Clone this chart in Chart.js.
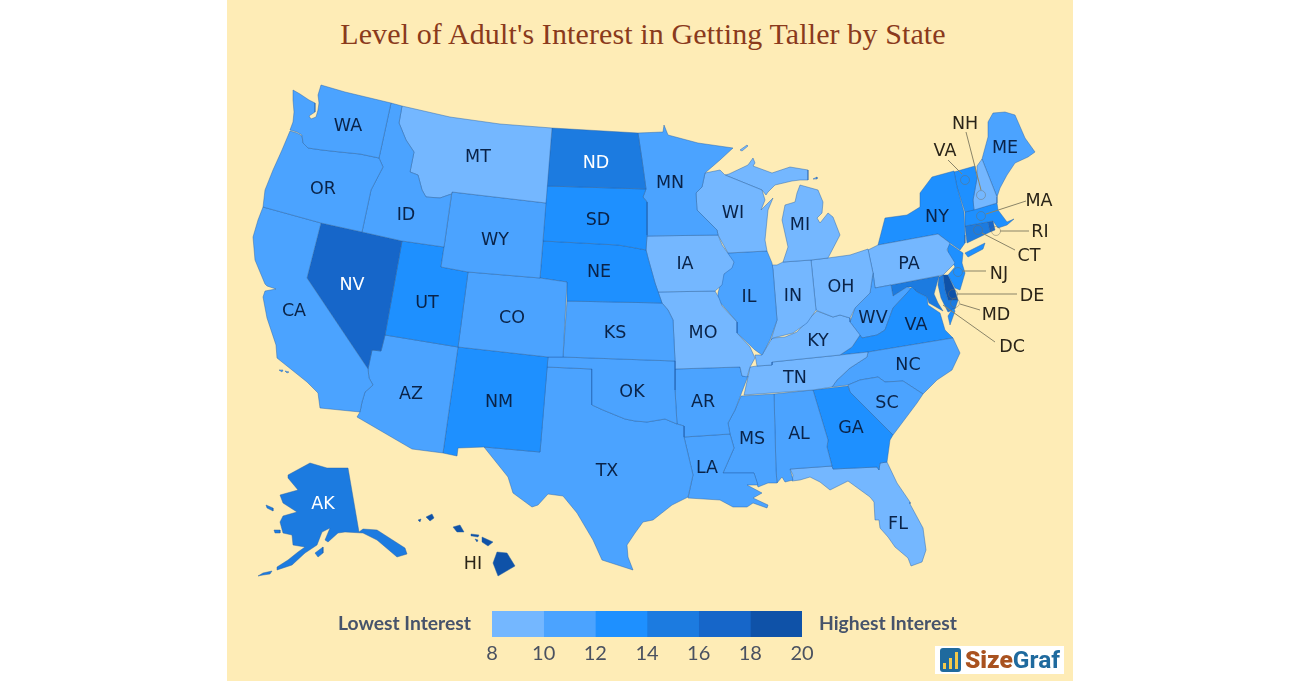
<!DOCTYPE html>
<html>
<head>
<meta charset="utf-8">
<title>Level of Adult's Interest in Getting Taller by State</title>
<script src="https://cdn.jsdelivr.net/npm/chart.js@4/dist/chart.umd.min.js"></script>
<style>
  html, body { margin: 0; padding: 0; background: #fff; }
  #page { position: relative; width: 1300px; height: 681px; overflow: hidden; }
  #panel { position: absolute; left: 227px; top: 0; width: 846px; height: 681px; background: #FEECB6; }
  canvas { position: absolute; }
  #title { position: absolute; left: 220px; width: 846px; top: 15px; margin: 0; text-align: center; color: #8A3A1C;
           font: 400 30px "Liberation Serif", serif; letter-spacing: 0.12px; line-height: 38px; }
  .legendText { position: absolute; top: 611px; color: #46536B; font: 700 19.3px Lato, sans-serif; line-height: 24px; }
  #logo { position: absolute; left: 935px; top: 646px; width: 129px; height: 28px; background: #fff; }
  #logoIcon { position: absolute; left: 5px; top: 2px; width: 21px; height: 24px; background: #1F6A9E; border-radius: 3px; }
  #logoIcon i { position: absolute; bottom: 3px; width: 3px; background: #F2C94C; }
  #logoText { position: absolute; left: 30px; top: 0; font: 700 24.5px Roboto, sans-serif; line-height: 28px; color: #1F6A9E; }
  #logoText b { color: #A9521F; }
</style>
</head>
<body>
<div id="page">
  <div id="panel"></div>
  <h1 id="title">Level of Adult's Interest in Getting Taller by State</h1>
  <canvas id="mapChart" width="846" height="681" style="left:227px;top:0"></canvas>
  <div class="legendText" style="left:338px">Lowest Interest</div>
  <div class="legendText" style="left:819px">Highest Interest</div>
  <canvas id="legendChart" width="390" height="55" style="left:452px;top:611px"></canvas>
  <div id="logo">
    <div id="logoIcon"><i style="left:3px;height:6px"></i><i style="left:9px;height:11px"></i><i style="left:15px;height:17px"></i></div>
    <div id="logoText"><b>Size</b>Graf</div>
  </div>
</div>

<script>
// colour bands, same as the legend
var bandEdges = [8, 10, 12, 14, 16, 18, 20];
var bandColors = ['#74B7FF', '#4BA3FF', '#1E90FF', '#1C7BE0', '#1666C9', '#0F52A8'];

var stateCodes = ['WA','OR','CA','ID','MT','WY','NV','UT','AZ','CO','NM','ND','SD','NE','KS','OK','TX','MN','IA','MO','AR','LA','WI','IL','MS','MI','IN','OH','KY','TN','AL','GA','FL','SC','NC','VA','WV','PA','NY','VT','NH','ME','MA','CT','RI','NJ','MD','DE','AK','HI'];
var stateValues = [11,11,11,11,9,11,17,13,11,11,13,15,13,13,11,11,11,11,9,9,11,11,9,11,11,9,9,9,9,9,11,13,9,11,11,13,11,9,13,13,9,11,13,15,17,13,15,19,15,19];

// outlines (x, y in picture pixels)
var WA = [[293,90],[300,94],[309,100],[315,103],[315,112],[309,116],[311,119],[316,117],[318,110],[319,103],[318,95],[321,85],[345,92],[391,103],[379,158],[360,154],[340,152],[322,150],[308,148],[303,143],[302,135],[297,132],[290,130],[293,122],[294,112],[293,100]];
var OR = [[290,131],[297,133],[302,136],[303,143],[308,148],[322,150],[340,152],[360,154],[379,158],[383,167],[371,190],[362,232],[321,223],[263,207],[265,190],[273,170],[282,150]];
var CA1 = [[263,207],[321,223],[307,278],[368,369],[369,378],[373,385],[365,392],[362,402],[360,412],[320,408],[318,393],[307,382],[292,370],[277,358],[276,345],[267,318],[263,297],[265,291],[276,289],[267,286],[265,284],[255,260],[253,237],[258,220]];
var CA2 = [[279,370],[283,370],[282,372]];
var CA3 = [[285,371],[289,372],[287,373]];
var ID = [[391,103],[402,106],[399,123],[406,140],[414,152],[410,172],[418,175],[422,190],[426,197],[440,198],[451.5,194],[444,247],[402,241],[362,232],[371,190],[383,167],[379,158]];
var MT = [[402,106],[450,117],[500,124],[552,128],[546,203],[452,192],[451.5,194],[440,198],[426,197],[422,190],[418,175],[410,172],[414,152],[406,140],[399,123]];
var WY = [[452,192],[546,203],[540,278],[468,272],[441,267],[444,247]];
var NV = [[321,223],[362,232],[402,241],[385,335],[381,351],[372,350],[368,369],[307,278]];
var UT = [[402,241],[444,247],[441,267],[468,272],[458,347],[385,335]];
var AZ = [[372,350],[381,351],[385,335],[458,347],[443,453],[412,449],[357,417],[360,412],[362,402],[365,392],[373,385],[369,378],[368,369]];
var CO = [[468,272],[540,278],[567,282],[563,357],[548,357],[458,347]];
var NM = [[458,347],[548,357],[540,452],[484,447],[458,448],[457,456],[443,453]];
var ND = [[552,128],[638,133],[642,160],[646,189],[547,186]];
var SD = [[547,186],[646,189],[643,197],[647,202],[647,235],[646,250],[630,247],[618,245],[543,241]];
var NE = [[543,241],[618,245],[630,247],[646,250],[648,258],[655,283],[662,303],[567,301],[567,282],[540,278]];
var KS = [[567,301],[662,303],[668,310],[673,320],[675,361],[563,357]];
var OK = [[548,357],[563,357],[675,361],[675,390],[677,424],[665,419],[647,422],[635,421],[625,419],[603,410],[592,405],[592,369],[547,367]];
var TX = [[547,367],[592,369],[592,405],[603,410],[625,419],[635,421],[647,422],[665,419],[677,424],[684,426],[684,437],[693,475],[688,497],[672,505],[653,520],[643,522],[635,533],[627,545],[628,557],[633,570],[602,560],[593,540],[577,513],[563,496],[548,494],[538,505],[532,507],[513,493],[508,477],[484,447],[540,452]];
var MN = [[638,133],[663,132],[664,125],[668,135],[698,143],[733,148],[720,160],[705,173],[702,187],[696,193],[697,210],[717,230],[718,235],[647,236],[647,202],[643,197],[646,189],[642,160]];
var IA = [[647,236],[718,235],[722,245],[727,252],[734,262],[732,268],[724,274],[722,285],[715,291],[658,292],[655,283],[648,258],[646,250]];
var MO = [[658,292],[715,291],[719,298],[722,306],[737,322],[737,333],[750,347],[755,358],[750,367],[747,377],[742,376],[740,367],[675,369],[675,361],[673,320],[668,310],[662,303]];
var AR = [[675,369],[740,367],[742,376],[748,376],[735,410],[728,423],[730,434],[684,437],[684,426],[677,424],[675,390]];
var LA = [[684,437],[730,434],[734,448],[723,473],[754,473],[758,485],[747,485],[762,493],[753,498],[768,505],[767,508],[753,503],[747,507],[733,507],[720,500],[688,498],[693,475]];
var WI = [[705,173],[720,170],[725,175],[762,190],[765,200],[761,210],[773,198],[768,210],[765,240],[767,251],[728,253],[718,235],[717,230],[697,210],[696,193],[702,187]];
var IL = [[728,253],[767,251],[772,263],[773,270],[777,320],[770,340],[762,355],[755,350],[737,333],[737,322],[718,300],[718,293],[723,275],[734,263],[725,253]];
var MS = [[741,396],[774,394],[776,470],[777,483],[768,483],[758,487],[754,473],[723,473],[734,448],[730,434],[728,423],[735,410]];
var MI1 = [[725,175],[729,174],[748,165],[753,158],[755,163],[753,166],[772,173],[790,167],[808,170],[808,180],[800,180],[792,181],[775,185],[768,192],[766,195],[762,190]];
var MI2 = [[800,185],[818,190],[823,202],[822,213],[817,218],[820,223],[828,213],[833,217],[840,235],[828,258],[811,260],[783,262],[788,247],[782,220],[785,205],[795,202],[797,193]];
var MI3 = [[740,150],[747,145],[748,146],[742,151]];
var MI4 = [[813,179],[817,177],[817,179]];
var IN = [[772,265],[777,265],[783,262],[811,260],[816,310],[807,323],[793,333],[773,338],[771,340],[777,320],[773,270]];
var OH = [[811,260],[828,258],[850,255],[868,249],[873,273],[870,293],[855,308],[850,318],[840,315],[833,317],[818,311],[816,310]];
var KY = [[755,355],[762,355],[771,340],[773,338],[785,337],[797,332],[808,320],[817,311],[833,317],[840,315],[850,318],[850,322],[860,335],[852,347],[840,355],[772,362],[772,365],[757,366]];
var TN = [[750,367],[757,366],[772,365],[772,362],[840,355],[868,352],[867,357],[850,368],[837,380],[832,387],[813,390],[744,395],[748,377]];
var AL = [[774,394],[813,390],[828,440],[827,447],[832,466],[790,469],[793,480],[785,482],[782,477],[777,483],[776,470]];
var GA = [[813,390],[848,386],[850,392],[893,435],[890,440],[887,462],[880,463],[879,470],[877,467],[833,469],[832,466],[827,447],[828,440]];
var FL = [[790,469],[832,466],[833,469],[877,467],[879,470],[880,463],[887,462],[897,483],[910,502],[910,504],[923,528],[926,550],[922,562],[911,566],[908,558],[895,547],[888,537],[880,528],[879,520],[875,520],[874,502],[870,497],[848,481],[830,490],[820,482],[810,477],[800,480],[792,481],[793,475]];
var SC = [[848,385],[860,380],[878,377],[885,382],[903,381],[923,394],[917,403],[893,435],[850,392]];
var NC = [[868,352],[953,338],[960,353],[952,370],[937,380],[923,394],[903,381],[885,382],[878,377],[860,380],[848,385],[832,387],[837,380],[850,368],[867,357]];
var VA1 = [[840,355],[852,347],[860,335],[862,338],[877,335],[885,330],[893,308],[907,293],[912,287],[917,292],[927,297],[928,305],[940,313],[945,330],[953,338],[868,352]];
var VA2 = [[953,308],[955,311],[950,325],[948,316]];
var WV = [[873,273],[875,288],[891,285],[893,296],[907,287],[916,290],[907,293],[893,308],[885,330],[877,335],[862,338],[850,322],[855,308],[870,293]];
var PA = [[868,250],[878,245],[938,234],[950,243],[947,250],[955,263],[943,275],[875,288],[873,273]];
var NY1 = [[878,245],[885,218],[907,215],[920,207],[920,193],[932,177],[954,171],[957,187],[964,212],[965,235],[965,243],[960,250],[950,243],[938,234]];
var NY2 = [[965,253],[985,243],[983,249],[968,257]];
var VT = [[954,172],[975,166],[977,178],[973,200],[974,210],[965,212],[957,187]];
var NH = [[977,166],[982,159],[997,197],[997,203],[974,210],[973,200],[977,178]];
var ME = [[982,159],[988,137],[988,122],[993,113],[1005,112],[1015,115],[1025,138],[1035,152],[1028,157],[1015,163],[1007,175],[1000,188],[997,197]];
var MA = [[965,212],[997,203],[998,210],[1007,222],[1014,219],[1007,225],[998,228],[993,221],[965,226]];
var CT = [[965,226],[988,222],[990,232],[967,243]];
var RI = [[988,222],[993,221],[995,230],[990,232]];
var NJ = [[947,242],[963,253],[962,263],[965,273],[960,290],[955,288],[948,275],[955,267],[948,253]];
var MD1 = [[891,285],[939,276],[937,283],[934,294],[938,303],[943,311],[929,303],[927,297],[917,292],[912,287],[907,287],[893,296]];
var MD2 = [[939,277],[943,275],[945,290],[948,300],[958,300],[955,309],[948,312],[941,298],[938,285]];
var DE = [[943,275],[948,275],[955,290],[958,300],[948,300],[945,290]];
var AK1 = [[348,468],[359,532],[363,529],[377,530],[405,548],[407,554],[397,557],[377,540],[363,533],[345,532],[338,533],[328,542],[325,540],[330,528],[322,532],[317,545],[305,553],[292,565],[277,570],[277,567],[288,560],[298,552],[305,547],[293,545],[292,535],[283,533],[280,522],[283,516],[297,512],[283,503],[280,495],[298,490],[288,478],[288,475],[310,463],[327,468]];
var AK2 = [[315,553],[323,547],[323,553],[318,557]];
var AK3 = [[258,576],[263,573],[272,571],[270,574],[263,575]];
var AK4 = [[266,505],[273,508],[273,511],[267,508]];
var AK5 = [[274,530],[280,530],[280,533],[275,533]];
var HI1 = [[497,552],[507,553],[515,566],[498,576],[493,563]];
var HI2 = [[482,537],[493,542],[488,546],[482,542]];
var HI3 = [[471,534],[479,535],[478,537],[472,536]];
var HI4 = [[453,527],[460,525],[464,532],[457,532]];
var HI5 = [[426,517],[432,514],[434,518],[430,521]];
var HI6 = [[418,520],[421,519],[420,522]];
var HI7 = [[475,539],[478,540],[477,542]];

var stateRings = [WA,OR,[CA1,CA2,CA3],ID,MT,WY,NV,UT,AZ,CO,NM,ND,SD,NE,KS,OK,TX,MN,IA,MO,AR,LA,WI,IL,MS,[MI1,MI2,MI3,MI4],IN,OH,KY,TN,AL,GA,FL,SC,NC,[VA1,VA2],WV,PA,[NY1,NY2],VT,NH,ME,MA,CT,RI,NJ,[MD1,MD2],DE,[AK1,AK2,AK3,AK4,AK5],[HI1,HI2,HI3,HI4,HI5,HI6,HI7]];

// labels placed on the map
var labelTexts = ['WA','OR','ID','MT','WY','ND','SD','NE','KS','CO','UT','NV','CA','AZ','NM','TX','OK','AR','LA','MS','AL','GA','FL','SC','NC','TN','KY','WV','VA','OH','IN','IL','IA','MO','MN','WI','MI','PA','NY','ME','AK','HI','NH','VA','MA','RI','CT','NJ','DE','MD','DC'];
var labelX = [348,323,406,478,495,596,598,599,615,512,427,352,294,411,499,607,632,703,707,752,799,851,898,887,908,795,818,873,916,841,793,749,685,703,670,733,800,909,937,1005,323,473,965,945,1039,1040,1029,999,1032,996,1012];
var labelY = [126,189,215,157,240,163,220,272,333,318,303,285,311,394,402,471,392,402,468,439,434,428,524,403,365,378,341,318,325,287,296,297,264,333,183,213,225,264,217,148,504,564,124,151,201,232,256,274,296,315,347];
var whiteLabels = ['ND','NV','AK'];

// leader lines for the small states
var leaderA = [[966,132],[948,160],[1026,201],[1029,231],[1015,250],[986,271],[1017,294],[980,310],[995,342]];
var leaderB = [[981,190],[962,174],[986,214],[1000,231],[982,233],[963,271],[957,294],[960,304],[943,305]];
var leaderDots = [[981,195],[965,180],[981,216],[996,231],[978,230],[958,272],[953,294],[955,303]];

function bandColor(v) {
  for (var i = 0; i < bandColors.length; i++) {
    if (v < bandEdges[i + 1]) return bandColors[i];
  }
  return bandColors[bandColors.length - 1];
}

function toXY(points) {
  var pts = points.map(function (p) { return { x: p[0], y: p[1] }; });
  pts.push(pts[0]); // close the ring
  return pts;
}

var datasets = [];

// leader lines and dots go first so they are drawn on top
leaderA.forEach(function (a, i) {
  datasets.push({
    data: [{ x: a[0], y: a[1] }, { x: leaderB[i][0], y: leaderB[i][1] }],
    showLine: true, fill: false, borderColor: '#8A8468', borderWidth: 1, pointRadius: 0
  });
});
datasets.push({
  data: leaderDots.map(function (p) { return { x: p[0], y: p[1] }; }),
  showLine: false, pointRadius: 4.5, pointBackgroundColor: 'rgba(0,0,0,0)',
  pointBorderColor: 'rgba(110,110,100,0.45)', pointBorderWidth: 1
});

stateCodes.forEach(function (code, i) {
  var rings = stateRings[i];
  if (typeof rings[0][0] === 'number') rings = [rings];
  rings.forEach(function (ring) {
    datasets.push({
      label: code,
      data: toXY(ring),
      showLine: true,
      fill: 'shape',
      tension: 0,
      backgroundColor: bandColor(stateValues[i]),
      borderColor: 'rgba(35,95,165,0.55)',
      borderWidth: 0.8,
      pointRadius: 0
    });
  });
});

var stateLabels = {
  id: 'stateLabels',
  afterDatasetsDraw: function (chart) {
    var ctx = chart.ctx;
    ctx.save();
    ctx.font = '17.5px "DejaVu Sans"';
    ctx.textAlign = 'center';
    ctx.textBaseline = 'middle';
    labelTexts.forEach(function (t, i) {
      var onMap = i < 41;
      ctx.fillStyle = whiteLabels.indexOf(t) >= 0 ? '#FFFFFF' : (onMap ? '#0A2348' : '#2A2418');
      ctx.fillText(t, chart.scales.x.getPixelForValue(labelX[i]), chart.scales.y.getPixelForValue(labelY[i]));
    });
    ctx.restore();
  }
};

new Chart(document.getElementById('mapChart'), {
  type: 'scatter',
  data: { datasets: datasets },
  options: {
    responsive: false,
    animation: false,
    layout: { padding: 0, autoPadding: false },
    plugins: { legend: { display: false }, tooltip: { enabled: false } },
    scales: {
      x: { type: 'linear', min: 227, max: 1073, display: false },
      y: { type: 'linear', min: 0, max: 681, reverse: true, display: false }
    }
  },
  plugins: [stateLabels]
});

// legend strip is a small chart of its own so the ticks come from a real axis
new Chart(document.getElementById('legendChart'), {
  type: 'bar',
  data: {
    labels: ['Interest'],
    datasets: bandColors.map(function (c, i) {
      return { data: [[bandEdges[i], bandEdges[i + 1]]], backgroundColor: c, grouped: false, barPercentage: 1, categoryPercentage: 1 };
    })
  },
  options: {
    indexAxis: 'y',
    responsive: false,
    animation: false,
    layout: { padding: { left: 40, right: 40, top: 0, bottom: 3 } },
    plugins: { legend: { display: false }, tooltip: { enabled: false } },
    scales: {
      y: { display: false },
      x: {
        min: 8, max: 20,
        grid: { display: false, drawTicks: false },
        border: { display: false },
        ticks: { stepSize: 2, color: '#4A5160', padding: 5, maxRotation: 0, font: { family: 'Lato', size: 20 } }
      }
    }
  }
});
</script>
</body>
</html>
